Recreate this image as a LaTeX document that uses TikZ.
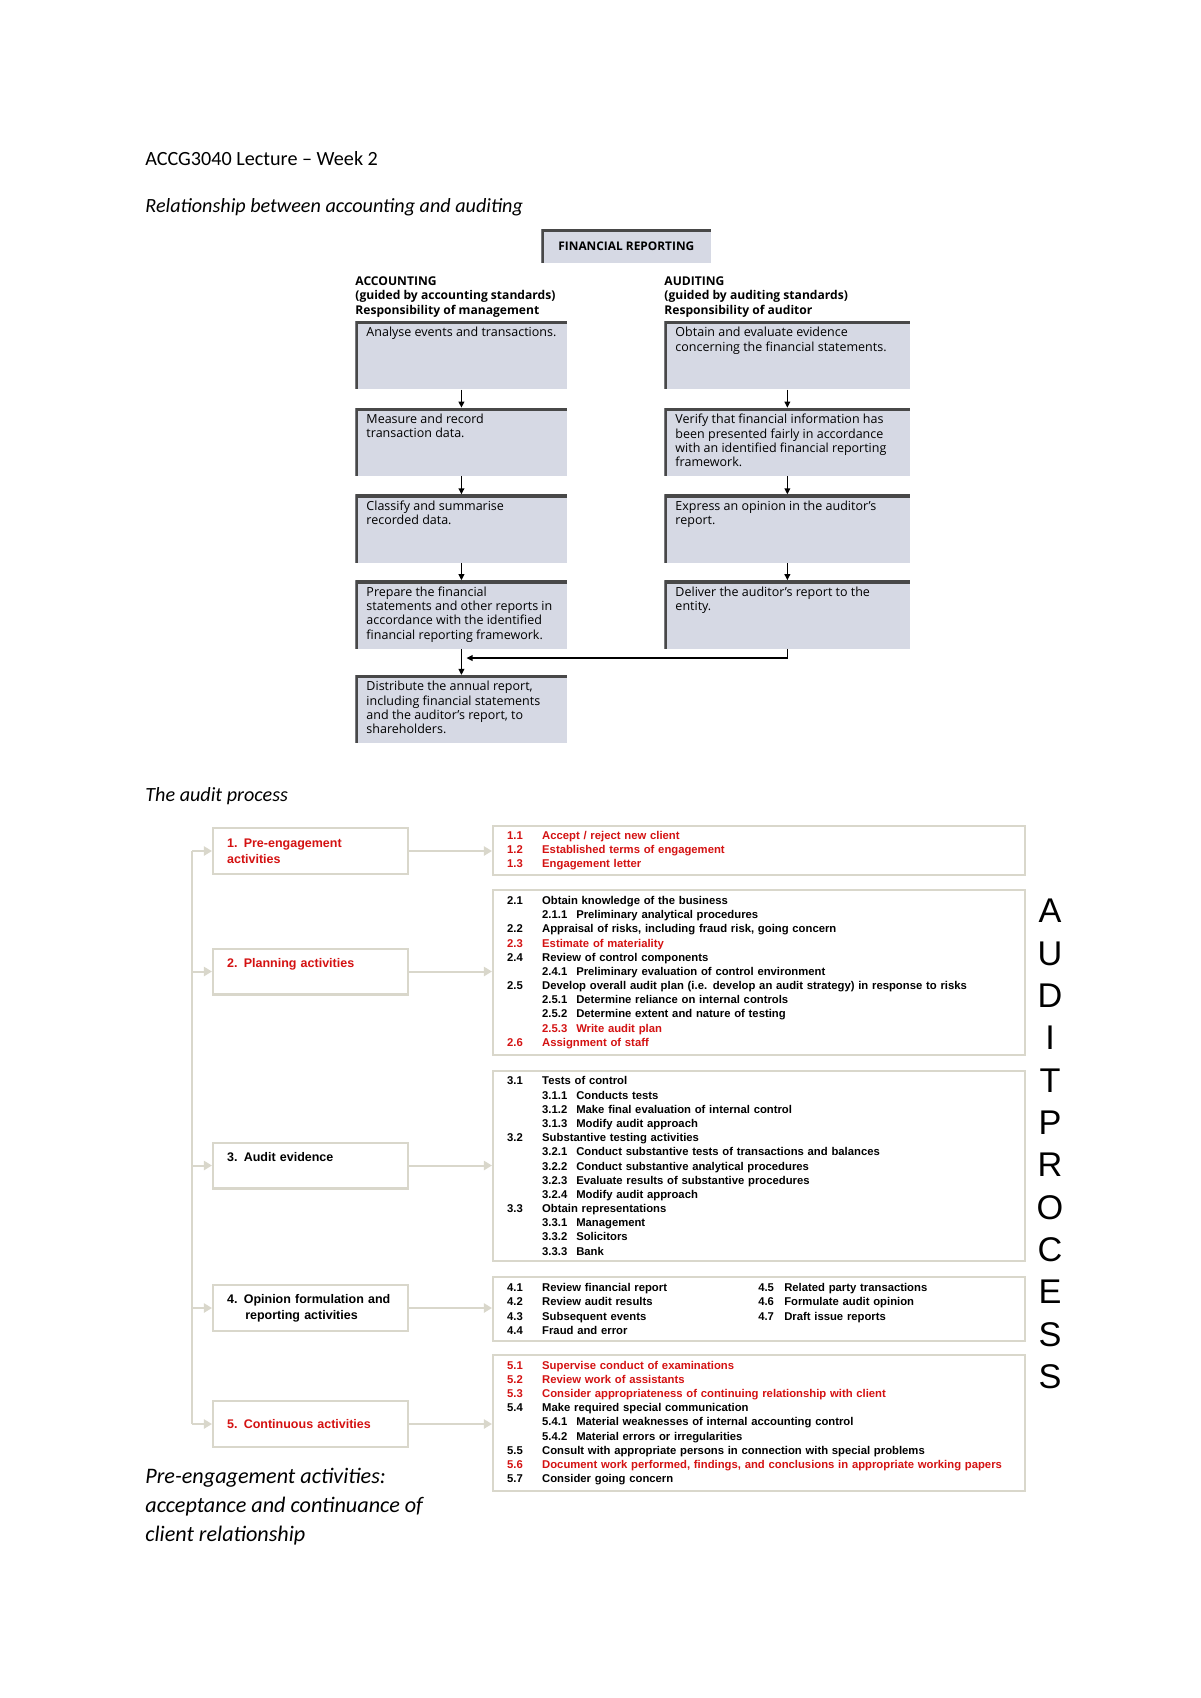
\documentclass[tikz,border=0pt]{standalone}
\usepackage{fontspec}
\setmainfont{Carlito}
\newfontfamily\frfont{Open Sans}
\newfontfamily\arialfont{Liberation Sans}
\usetikzlibrary{positioning,arrows.meta}
\setlength\parindent{0pt}

\definecolor{boxfill}{RGB}{214,217,228}
\definecolor{boxedge}{RGB}{72,72,72}
\definecolor{procline}{RGB}{217,215,203}
\definecolor{procred}{RGB}{212,18,18}

\newcommand{\steptext}[2][94.2pt]{\parbox[t][27.7pt][t]{#1}{\raggedright #2}}
\newcommand{\li}[3][black]{{\color{#1}\makebox[17.4pt][l]{#2}\mbox{#3}\par}}
\newcommand{\lii}[3][black]{{\color{#1}\hspace*{17.4pt}\makebox[16.9pt][l]{#2}\mbox{#3}\par}}

\begin{document}
\begin{tikzpicture}[x=0.4961pt, y=-0.4961pt,
    stepbox/.style={anchor=north west, fill=boxfill, inner xsep=5.5pt, inner ysep=3pt,
        minimum width=105.2pt, minimum height=33.7pt,
        font=\frfont\fontsize{6.2}{7.1}\selectfont,
        path picture={\draw[boxedge, line width=3pt]
            (path picture bounding box.south west) -- (path picture bounding box.north west)
            -- (path picture bounding box.north east);}},
    widebox/.style={stepbox, minimum width=122pt},
    hdr/.style={anchor=north west, inner sep=0, align=left,
        font=\frfont\bfseries\fontsize{6}{7.2}\selectfont},
    flowarrow/.style={draw=black, line width=0.75pt, -{Triangle[length=3pt,width=2.8pt]}},
    phase/.style={anchor=west, draw=procline, line width=1pt, fill=white,
        minimum width=96.7pt, minimum height=22.8pt, text width=82.7pt, inner xsep=7pt,
        align=left, font=\arialfont\bfseries\fontsize{6.2}{8}\selectfont},
    tasks/.style={anchor=west, draw=procline, line width=1pt, fill=white,
        minimum width=263.9pt, text width=249.9pt, inner xsep=7pt, inner ysep=1pt,
        align=left, font=\arialfont\bfseries\fontsize{5.6}{7.04}\selectfont},
    procarrow/.style={draw=procline, line width=1pt, -{Triangle[length=4pt,width=4.5pt]}}]
    \useasboundingbox (0,0) rectangle (1200,1698);

    % Page headings
    \node[anchor=base west, inner sep=0] (title) at (145,165) {ACCG3040 Lecture – Week 2};
    \node[anchor=base west, inner sep=0, font=\itshape] (rel) at (145,212) {Relationship between accounting and auditing};

    % Financial reporting chart
    \node[stepbox, minimum width=84.3pt, minimum height=16.9pt,
        font=\frfont\bfseries\fontsize{5.9}{7}\selectfont] (fin) at (541,229) {FINANCIAL REPORTING};
    \node[hdr] (acchead) at (355,276) {ACCOUNTING\\(guided by accounting standards)\\Responsibility of management};
    \node[hdr] (audhead) at (664,276) {AUDITING\\(guided by auditing standards)\\Responsibility of auditor};

    \node[stepbox] (a1) at (355,321) {\steptext{Analyse events and transactions.}};
    \node[stepbox, below=8.9pt of a1] (a2) {\steptext{Measure and record\\transaction data.}};
    \node[stepbox, below=8.9pt of a2] (a3) {\steptext{Classify and summarise\\recorded data.}};
    \node[stepbox, below=8.5pt of a3] (a4) {\steptext{Prepare the financial\\statements and other reports in\\accordance with the identified\\financial reporting framework.}};
    \node[stepbox, below=12.9pt of a4] (a5) {\steptext{Distribute the annual report,\\including financial statements\\and the auditor’s report, to\\shareholders.}};

    \node[widebox] (b1) at (664,321) {\steptext[111pt]{Obtain and evaluate evidence\\concerning the financial statements.}};
    \node[widebox, below=8.9pt of b1] (b2) {\steptext[111pt]{Verify that financial information has\\been presented fairly in accordance\\with an identified financial reporting\\framework.}};
    \node[widebox, below=8.9pt of b2] (b3) {\steptext[111pt]{Express an opinion in the auditor’s\\report.}};
    \node[widebox, below=8.5pt of b3] (b4) {\steptext[111pt]{Deliver the auditor’s report to the\\entity.}};

    \draw[flowarrow] (a1) -- (a2);
    \draw[flowarrow] (a2) -- (a3);
    \draw[flowarrow] (a3) -- (a4);
    \draw[flowarrow] (a4) -- (a5);
    \draw[flowarrow] (b1) -- (b2);
    \draw[flowarrow] (b2) -- (b3);
    \draw[flowarrow] (b3) -- (b4);
    \coordinate[below right=4.5pt and 2.5pt of a4.south] (merge);
    \draw[flowarrow] (b4) |- (merge);

    % Audit process
    \node[anchor=base west, inner sep=0, font=\itshape] (proc) at (145,801) {The audit process};

    \node[phase] (l1) at (212,851) {\color{procred}1. Pre-engagement\\activities};
    \node[phase] (l2) at (212,971.5) {\color{procred}2. Planning activities\\\mbox{}};
    \node[phase] (l3) at (212,1165.5) {3. Audit evidence\\\mbox{}};
    \node[phase] (l4) at (212,1308) {4. Opinion formulation and\\\hspace*{9pt}reporting activities};
    \node[phase] (l5) at (212,1424) {\color{procred}5. Continuous activities};

    \node[tasks, minimum height=24.3pt] (r1) at (492,850.5) {%
        \li[procred]{1.1}{Accept / reject new client}
        \li[procred]{1.2}{Established terms of engagement}
        \li[procred]{1.3}{Engagement letter}};
    \node[tasks, minimum height=81.9pt] (r2) at (492,972.5) {%
        \li{2.1}{Obtain knowledge of the business}
        \lii{2.1.1}{Preliminary analytical procedures}
        \li{2.2}{Appraisal of risks, including fraud risk, going concern}
        \li[procred]{2.3}{Estimate of materiality}
        \li{2.4}{Review of control components}
        \lii{2.4.1}{Preliminary evaluation of control environment}
        \li{2.5}{Develop overall audit plan (i.e. develop an audit strategy) in response to risks}
        \lii{2.5.1}{Determine reliance on internal controls}
        \lii{2.5.2}{Determine extent and nature of testing}
        \lii[procred]{2.5.3}{Write audit plan}
        \li[procred]{2.6}{Assignment of staff}};
    \node[tasks, minimum height=94.3pt] (r3) at (492,1166) {%
        \li{3.1}{Tests of control}
        \lii{3.1.1}{Conducts tests}
        \lii{3.1.2}{Make final evaluation of internal control}
        \lii{3.1.3}{Modify audit approach}
        \li{3.2}{Substantive testing activities}
        \lii{3.2.1}{Conduct substantive tests of transactions and balances}
        \lii{3.2.2}{Conduct substantive analytical procedures}
        \lii{3.2.3}{Evaluate results of substantive procedures}
        \lii{3.2.4}{Modify audit approach}
        \li{3.3}{Obtain representations}
        \lii{3.3.1}{Management}
        \lii{3.3.2}{Solicitors}
        \lii{3.3.3}{Bank}};
    \node[tasks, minimum height=31.8pt] (r4) at (492,1309) {%
        \li{4.1}{\makebox[107.2pt][l]{Review financial report}\makebox[12.9pt][l]{4.5}Related party transactions}
        \li{4.2}{\makebox[107.2pt][l]{Review audit results}\makebox[12.9pt][l]{4.6}Formulate audit opinion}
        \li{4.3}{\makebox[107.2pt][l]{Subsequent events}\makebox[12.9pt][l]{4.7}Draft issue reports}
        \li{4.4}{Fraud and error}};
    \node[tasks, minimum height=67.5pt] (r5) at (492,1423) {%
        \li[procred]{5.1}{Supervise conduct of examinations}
        \li[procred]{5.2}{Review work of assistants}
        \li[procred]{5.3}{Consider appropriateness of continuing relationship with client}
        \li{5.4}{Make required special communication}
        \lii{5.4.1}{Material weaknesses of internal accounting control}
        \lii{5.4.2}{Material errors or irregularities}
        \li{5.5}{Consult with appropriate persons in connection with special problems}
        \li[procred]{5.6}{Document work performed, findings, and conclusions in appropriate working papers}
        \li{5.7}{Consider going concern}};

    % Spine and links
    \draw[procline, line width=1pt] ([xshift=-9.9pt]l1.west) -- ([xshift=-9.9pt]l5.west);
    \foreach \n in {1,...,5} {
        \draw[procarrow] ([xshift=-9.9pt]l\n.west) -- (l\n.west);
        \draw[procarrow] (l\n.east) -- (l\n.east -| r\n.west);
    }

    \node[inner sep=0, align=center, font=\arialfont\fontsize{17}{21}\selectfont] (vert) at (1050,1144)
        {A\\U\\D\\I\\T\\P\\R\\O\\C\\E\\S\\S};

    \node[anchor=north west, inner sep=0, align=left, font=\itshape\fontsize{11}{14.4}\selectfont] (note) at (145,1468)
        {Pre-engagement activities:\\acceptance and continuance of\\client relationship};
\end{tikzpicture}
\end{document}
